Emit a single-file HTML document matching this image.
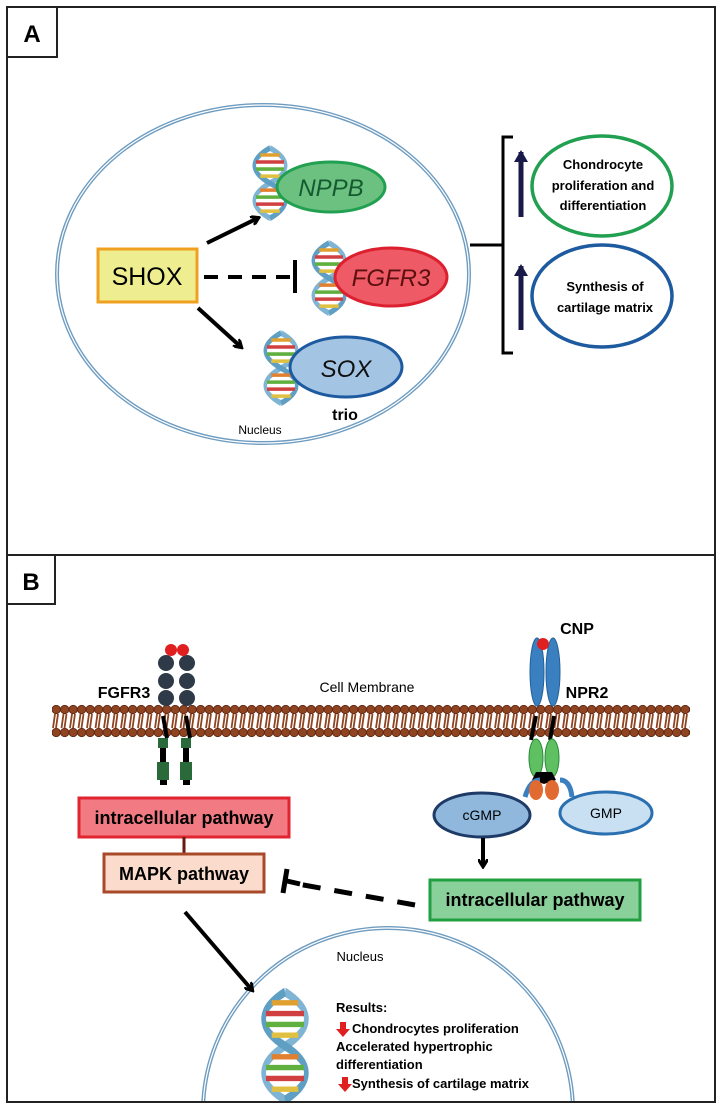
<!DOCTYPE html>
<html><head><meta charset="utf-8"><style>
html,body{margin:0;padding:0;background:#fff;overflow:hidden;width:720px;height:1110px;}
svg{display:block;font-family:"Liberation Sans",sans-serif;}
</style></head><body>
<svg width="720" height="1110" viewBox="0 0 720 1110" xmlns="http://www.w3.org/2000/svg">
<defs>
<marker id="ah" markerWidth="10" markerHeight="10" refX="7" refY="5" orient="auto" markerUnits="userSpaceOnUse"><path d="M0,0 L8,5 L0,10" fill="none" stroke="#000" stroke-width="3"/></marker>
<marker id="ahb" markerWidth="14" markerHeight="14" refX="10" refY="7" orient="auto" markerUnits="userSpaceOnUse"><path d="M0,0 L12,7 L0,14 Z" fill="#1a1a4a"/></marker>
<g id="dna">
<path d="M0,0 C30,10 30,20 0,30 C-30,40 -30,50 0,60" fill="none" stroke="#7fb4d4" stroke-width="5"/>
<path d="M0,0 C-30,10 -30,20 0,30 C30,40 30,50 0,60" fill="none" stroke="#5f9fc4" stroke-width="5"/>
<g stroke-width="3">
<line x1="-14" y1="6" x2="14" y2="6" stroke="#e0a030"/>
<line x1="-20" y1="12" x2="20" y2="12" stroke="#d04040"/>
<line x1="-20" y1="18" x2="20" y2="18" stroke="#60b040"/>
<line x1="-14" y1="24" x2="14" y2="24" stroke="#e0c040"/>
<line x1="-14" y1="36" x2="14" y2="36" stroke="#e08030"/>
<line x1="-20" y1="42" x2="20" y2="42" stroke="#60b040"/>
<line x1="-20" y1="48" x2="20" y2="48" stroke="#d04040"/>
<line x1="-14" y1="54" x2="14" y2="54" stroke="#e0c040"/>
</g></g>
<pattern id="lip" width="8.5" height="32" patternUnits="userSpaceOnUse" x="52" y="705">
<circle cx="4.2" cy="4.5" r="4.2" fill="#8e4420" stroke="#5e2410" stroke-width="0.8"/>
<circle cx="4.2" cy="27.5" r="4.2" fill="#8e4420" stroke="#5e2410" stroke-width="0.8"/>
<path d="M3,9 L1,23 M6,9 L4,23" stroke="#8e4420" stroke-width="1.8"/>
</pattern>
<clipPath id="cb"><rect x="8" y="556" width="706" height="545"/></clipPath>
</defs>
<!-- frames -->
<rect x="7" y="7" width="708" height="1095" fill="none" stroke="#222" stroke-width="2"/>
<line x1="7" y1="555" x2="715" y2="555" stroke="#222" stroke-width="2"/>
<rect x="7" y="7" width="50" height="50" fill="#fff" stroke="#222" stroke-width="2"/>
<text x="32" y="42" font-size="24" font-weight="bold" text-anchor="middle">A</text>
<rect x="7" y="555" width="48" height="49" fill="#fff" stroke="#222" stroke-width="2"/>
<text x="31" y="590" font-size="24" font-weight="bold" text-anchor="middle">B</text>

<!-- Panel A -->
<ellipse cx="263" cy="274" rx="206" ry="169" fill="none" stroke="#6e9cc0" stroke-width="4"/>
<ellipse cx="263" cy="274" rx="206" ry="169" fill="none" stroke="#fff" stroke-width="1.2"/>
<text x="260" y="434" font-size="12" text-anchor="middle">Nucleus</text>
<use href="#dna" transform="translate(270,148) scale(0.7,1.17)"/>
<ellipse cx="331" cy="187" rx="54" ry="25" fill="#6cc080" stroke="#20a050" stroke-width="3"/>
<text x="331" y="196" font-size="24" font-style="italic" fill="#145a30" text-anchor="middle">NPPB</text>
<use href="#dna" transform="translate(329,243) scale(0.7,1.17)"/>
<ellipse cx="391" cy="277" rx="56" ry="29" fill="#ee5a65" stroke="#dd2030" stroke-width="3"/>
<text x="391" y="286" font-size="24" font-style="italic" fill="#5a1010" text-anchor="middle">FGFR3</text>
<use href="#dna" transform="translate(281,333) scale(0.7,1.17)"/>
<ellipse cx="346" cy="367" rx="56" ry="30" fill="#a4c4e4" stroke="#1e5aa0" stroke-width="3"/>
<text x="346" y="377" font-size="24" font-style="italic" fill="#111" text-anchor="middle">SOX</text>
<text x="345" y="420" font-size="16" font-weight="bold" text-anchor="middle">trio</text>
<rect x="98" y="249" width="99" height="53" fill="#eeee90" stroke="#f0a020" stroke-width="3"/>
<text x="147" y="285" font-size="25" text-anchor="middle">SHOX</text>
<line x1="207" y1="243" x2="258" y2="218" stroke="#000" stroke-width="4" marker-end="url(#ah)"/>
<line x1="198" y1="308" x2="241" y2="347" stroke="#000" stroke-width="4" marker-end="url(#ah)"/>
<line x1="204" y1="277" x2="292" y2="277" stroke="#000" stroke-width="4" stroke-dasharray="14,10"/>
<line x1="295" y1="260" x2="295" y2="293" stroke="#000" stroke-width="4"/>
<path d="M470,245 L503,245 M513,137 L503,137 L503,353 L513,353" fill="none" stroke="#000" stroke-width="3"/>
<line x1="521" y1="217" x2="521" y2="152" stroke="#1a1a4a" stroke-width="5" marker-end="url(#ahb)"/>
<line x1="521" y1="330" x2="521" y2="266" stroke="#1a1a4a" stroke-width="5" marker-end="url(#ahb)"/>
<ellipse cx="602" cy="186" rx="70" ry="50" fill="#fff" stroke="#20a050" stroke-width="3.5"/>
<text x="603" y="169" font-size="13" font-weight="bold" text-anchor="middle">Chondrocyte</text>
<text x="603" y="190" font-size="13" font-weight="bold" text-anchor="middle">proliferation and</text>
<text x="603" y="210" font-size="13" font-weight="bold" text-anchor="middle">differentiation</text>
<ellipse cx="602" cy="296" rx="70" ry="51" fill="#fff" stroke="#1e5aa0" stroke-width="3.5"/>
<text x="605" y="291" font-size="13" font-weight="bold" text-anchor="middle">Synthesis of</text>
<text x="605" y="312" font-size="13" font-weight="bold" text-anchor="middle">cartilage matrix</text>

<!-- Panel B membrane -->
<rect x="52" y="705" width="638" height="32" fill="url(#lip)"/>
<!-- FGFR3 receptor -->
<rect x="158" y="738" width="10" height="10" fill="#2a6a3a"/><rect x="181" y="738" width="10" height="10" fill="#2a6a3a"/>
<rect x="160" y="748" width="6" height="14" fill="#000"/><rect x="183" y="748" width="6" height="14" fill="#000"/>
<rect x="157" y="762" width="12" height="18" fill="#2a6a3a"/><rect x="180" y="762" width="12" height="18" fill="#2a6a3a"/>
<rect x="160" y="780" width="7" height="5" fill="#000"/><rect x="183" y="780" width="7" height="5" fill="#000"/>
<path d="M163,716 L167,738 M186,716 L190,738" stroke="#000" stroke-width="4"/>
<g fill="#2f3a48"><circle cx="166" cy="663" r="8"/><circle cx="166" cy="681" r="8"/><circle cx="166" cy="698" r="8"/>
<circle cx="187" cy="663" r="8"/><circle cx="187" cy="681" r="8"/><circle cx="187" cy="698" r="8"/></g>
<circle cx="171" cy="650" r="6" fill="#e02020"/><circle cx="183" cy="650" r="6" fill="#e02020"/>
<text x="124" y="698" font-size="16" font-weight="bold" text-anchor="middle">FGFR3</text>
<text x="367" y="692" font-size="14" text-anchor="middle">Cell Membrane</text>
<!-- NPR2 -->
<ellipse cx="537" cy="672" rx="7" ry="34" fill="#3a80c0" stroke="#20609a"/>
<ellipse cx="553" cy="672" rx="7" ry="34" fill="#3a80c0" stroke="#20609a"/>
<circle cx="543" cy="644" r="6" fill="#e02020"/>
<path d="M536,716 L531,740 M554,716 L550,740" stroke="#000" stroke-width="4"/>
<ellipse cx="536" cy="758" rx="7" ry="19" fill="#5ec060" stroke="#2a8a3a"/>
<ellipse cx="552" cy="758" rx="7" ry="19" fill="#5ec060" stroke="#2a8a3a"/>
<path d="M536,772 L552,772 L556,780 L544,784 L532,780 Z" fill="#000"/>
<path d="M525,797 Q530,780 540,780 M560,780 Q570,780 572,797" fill="none" stroke="#3a80c0" stroke-width="5"/>
<ellipse cx="536" cy="790" rx="7" ry="10" fill="#e06a30"/>
<ellipse cx="552" cy="790" rx="7" ry="10" fill="#e06a30"/>
<text x="577" y="634" font-size="16" font-weight="bold" text-anchor="middle">CNP</text>
<text x="587" y="698" font-size="16" font-weight="bold" text-anchor="middle">NPR2</text>
<ellipse cx="482" cy="815" rx="48" ry="22" fill="#90b8dc" stroke="#1e3a66" stroke-width="3"/>
<text x="482" y="820" font-size="14" text-anchor="middle">cGMP</text>
<ellipse cx="606" cy="813" rx="46" ry="21" fill="#c8e0f2" stroke="#2a70b0" stroke-width="3"/>
<text x="606" y="818" font-size="14" text-anchor="middle">GMP</text>
<line x1="483" y1="838" x2="483" y2="866" stroke="#000" stroke-width="4" marker-end="url(#ah)"/>
<!-- boxes -->
<rect x="79" y="798" width="210" height="39" fill="#f27a82" stroke="#e02530" stroke-width="3"/>
<text x="184" y="824" font-size="18" font-weight="bold" text-anchor="middle">intracellular pathway</text>
<line x1="184" y1="837" x2="184" y2="854" stroke="#6a1a10" stroke-width="3"/>
<rect x="104" y="854" width="160" height="38" fill="#fbdccc" stroke="#a84a2a" stroke-width="3"/>
<text x="184" y="880" font-size="18" font-weight="bold" text-anchor="middle">MAPK pathway</text>
<rect x="430" y="880" width="210" height="40" fill="#8ad09a" stroke="#20a040" stroke-width="3"/>
<text x="535" y="906" font-size="18" font-weight="bold" text-anchor="middle">intracellular pathway</text>
<line x1="415" y1="905" x2="298" y2="884" stroke="#000" stroke-width="5" stroke-dasharray="18,14"/>
<line x1="287" y1="869" x2="283" y2="893" stroke="#000" stroke-width="5"/>
<line x1="287" y1="881" x2="300" y2="884" stroke="#000" stroke-width="5"/>
<!-- nucleus B -->
<g clip-path="url(#cb)">
<ellipse cx="388" cy="1112" rx="185" ry="184" fill="none" stroke="#6e9cc0" stroke-width="4"/>
<ellipse cx="388" cy="1112" rx="185" ry="184" fill="none" stroke="#fff" stroke-width="1.2"/>
<use href="#dna" transform="translate(285,992) scale(0.95,1.8)"/>
</g>
<text x="360" y="961" font-size="13" text-anchor="middle">Nucleus</text>
<line x1="185" y1="912" x2="252" y2="990" stroke="#000" stroke-width="4" marker-end="url(#ah)"/>
<g font-size="13" font-weight="bold">
<text x="336" y="1012">Results:</text>
<path d="M340,1022 h6 v7 h4 l-7,8 l-7,-8 h4 z" fill="#e02020"/>
<text x="352" y="1033">Chondrocytes  proliferation</text>
<text x="336" y="1051">Accelerated hypertrophic</text>
<text x="336" y="1069">differentiation</text>
<path d="M342,1077 h6 v7 h4 l-7,8 l-7,-8 h4 z" fill="#e02020"/>
<text x="352" y="1088">Synthesis of cartilage matrix</text>
</g>
</svg>
</body></html>
